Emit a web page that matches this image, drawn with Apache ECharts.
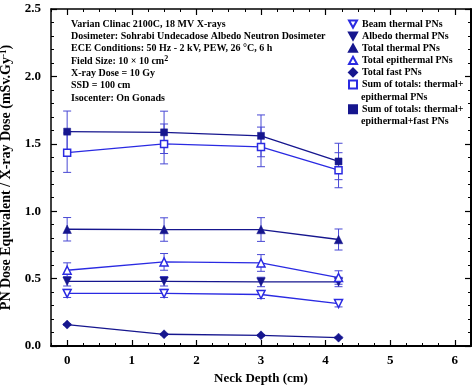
<!DOCTYPE html>
<html><head><meta charset="utf-8">
<script src="https://cdn.jsdelivr.net/npm/echarts@6/dist/echarts.min.js"></script>
<style>html,body{margin:0;padding:0;background:#fff}#c{width:474px;height:387px}</style>
</head><body><div id="c"></div>
<script>
// ---- data ----
const depths = [0, 1.5, 3, 4.2];
const xTickValues = [0, 1, 2, 3, 4, 5, 6];
const beamThermal = [0.39, 0.39, 0.382, 0.315];
const beamThermalErr = [0.03, 0.03, 0.03, 0.025];
const albedoThermal = [0.48, 0.48, 0.475, 0.475];
const albedoThermalErr = [0.035, 0.035, 0.035, 0.035];
const totalThermal = [0.866, 0.864, 0.864, 0.79];
const totalThermalErr = [0.087, 0.087, 0.088, 0.078];
const totalEpithermal = [0.562, 0.624, 0.616, 0.508];
const totalEpithermalErr = [0.055, 0.062, 0.062, 0.05];
const totalFast = [0.159, 0.087, 0.079, 0.062];
const totalFastErr = [0.006, 0.006, 0.006, 0.006];
const sumThermEpi = [1.434, 1.499, 1.477, 1.304];
const sumThermEpiErr = [0.146, 0.148, 0.147, 0.13];
const sumAll = [1.59, 1.585, 1.559, 1.369];
const sumAllErr = [0.153, 0.157, 0.155, 0.135];
const seriesNames = ['Beam thermal PNs', 'Albedo thermal PNs', 'Total thermal PNs', 'Total epithermal PNs',
  'Total fast PNs', 'Sum of totals: thermal+\nepithermal PNs', 'Sum of totals: thermal+\nepithermal+fast PNs'];
const annotationLines = ['Varian Clinac 2100C, 18 MV X-rays',
  'Dosimeter: Sohrabi Undecadose Albedo Neutron Dosimeter',
  'ECE Conditions: 50 Hz - 2 kV, PEW, 26 °C, 6 h',
  'Field Size: 10 × 10 cm{sup|2}',
  'X-ray Dose = 10 Gy',
  'SSD = 100 cm',
  'Isocenter: On Gonads'];

// ---- styles ----
const DARK = '#16168e', BLUE = '#2a2ae2', ERR = '#4848d4';
const FONT = 'Liberation Serif';
const chart = echarts.init(document.getElementById('c'), null, {renderer: 'canvas'});

function pts(vals) { return depths.map((d, i) => [d, vals[i]]); }
function errPts(vals, errs) { return depths.map((d, i) => [d, vals[i] - errs[i], vals[i] + errs[i]]); }

const DOWN = 'path://M0,0L10,0L5,9Z';
const UP = 'path://M5,0L10,9L0,9Z';
const defs = [
  {v: beamThermal, e: beamThermalErr, sym: 'triangle', rot: 180, icon: DOWN, open: true, size: 8, c: BLUE},
  {v: albedoThermal, e: albedoThermalErr, sym: 'triangle', rot: 180, icon: DOWN, open: false, size: 8.5, c: DARK},
  {v: totalThermal, e: totalThermalErr, sym: 'triangle', rot: 0, icon: UP, open: false, size: 8.5, c: DARK},
  {v: totalEpithermal, e: totalEpithermalErr, sym: 'triangle', rot: 0, icon: UP, open: true, size: 8, c: BLUE},
  {v: totalFast, e: totalFastErr, sym: 'diamond', rot: 0, icon: 'diamond', open: false, size: 9, c: DARK},
  {v: sumThermEpi, e: sumThermEpiErr, sym: 'rect', rot: 0, icon: 'rect', open: true, size: 7, c: BLUE},
  {v: sumAll, e: sumAllErr, sym: 'rect', rot: 0, icon: 'rect', open: false, size: 7, c: DARK}
];

const series = [];
defs.forEach((d, i) => {
  series.push({
    type: 'custom', name: 'err' + i, xAxisIndex: 0, yAxisIndex: 0, z: 2,
    data: errPts(d.v, d.e), encode: {x: 0, y: [1, 2]},
    renderItem: function (params, api) {
      const x = api.value(0), lo = api.value(1), hi = api.value(2);
      const a = api.coord([x, hi]), b = api.coord([x, lo]);
      const w = 4, st = {stroke: ERR, lineWidth: 1};
      return {type: 'group', children: [
        {type: 'line', shape: {x1: a[0], y1: a[1], x2: b[0], y2: b[1]}, style: st},
        {type: 'line', shape: {x1: a[0] - w, y1: a[1], x2: a[0] + w, y2: a[1]}, style: st},
        {type: 'line', shape: {x1: b[0] - w, y1: b[1], x2: b[0] + w, y2: b[1]}, style: st}
      ]};
    }
  });
});
defs.forEach((d, i) => {
  series.push({
    type: 'line', name: seriesNames[i], xAxisIndex: 0, yAxisIndex: 0, z: 3,
    data: pts(d.v), symbol: d.sym, symbolRotate: d.rot, symbolSize: d.size,
    lineStyle: {color: d.c, width: 1.3},
    itemStyle: d.open ? {color: '#fff', borderColor: d.c, borderWidth: 1.5} : {color: d.c, borderColor: d.c, borderWidth: 0.5},
    emphasis: {disabled: true}, animation: false
  });
});

const LH = 12.1;
const legendText = {fontFamily: FONT, fontWeight: 'bold', fontSize: 10, color: '#000', lineHeight: LH};
const legendBase = {orient: 'vertical', left: 348, padding: 0, itemGap: 0, itemWidth: 8, itemHeight: 8,
  selectedMode: false, textStyle: legendText, formatter: n => n.split('\n')[0]};
const legends = [
  Object.assign({}, legendBase, {top: 24 - LH / 2, data: seriesNames.slice(0, 6).map((n, i) => ({name: n, icon: defs[i].icon}))}),
  Object.assign({}, legendBase, {top: 109.3 - LH / 2, data: [{name: seriesNames[6], icon: defs[6].icon}]})
];
const legendSecondLines = [
  {text: seriesNames[5].split('\n')[1], y: 97.3},
  {text: seriesNames[6].split('\n')[1], y: 121.6}
];

const tickLabelStyle = {fontFamily: FONT, fontWeight: 'bold', fontSize: 13, color: '#000'};

chart.setOption({
  animation: false,
  backgroundColor: '#fff',
  grid: {left: 51, right: 3, top: 9, bottom: 41, containLabel: false, outerBoundsMode: 'none'},
  legend: legends,
  xAxis: [
    {type: 'value', position: 'bottom', min: -0.25, max: 6.25,
      axisLine: {show: true, onZero: false, lineStyle: {color: '#000', width: 2}},
      axisTick: {show: true, inside: true, length: 6, customValues: xTickValues, lineStyle: {color: '#000', width: 1.2}},
      axisLabel: {show: true, customValues: xTickValues, margin: 8, ...tickLabelStyle},
      splitLine: {show: false},
      name: 'Neck Depth (cm)', nameLocation: 'middle', nameGap: 25,
      nameTextStyle: {fontFamily: FONT, fontWeight: 'bold', fontSize: 13, color: '#000'}},
    {type: 'value', position: 'bottom', min: -0.25, max: 6.25, interval: 0.25,
      axisLine: {show: false, onZero: false}, axisTick: {show: true, inside: true, length: 3, lineStyle: {color: '#000', width: 1}},
      axisLabel: {show: false}, splitLine: {show: false}},
    {type: 'value', position: 'top', min: -0.25, max: 6.25,
      axisLine: {show: true, onZero: false, lineStyle: {color: '#000', width: 1.5}},
      axisTick: {show: true, inside: true, length: 6, customValues: xTickValues, lineStyle: {color: '#000', width: 1.2}},
      axisLabel: {show: false}, splitLine: {show: false}},
    {type: 'value', position: 'top', min: -0.25, max: 6.25, interval: 0.25,
      axisLine: {show: false, onZero: false}, axisTick: {show: true, inside: true, length: 3, lineStyle: {color: '#000', width: 1}},
      axisLabel: {show: false}, splitLine: {show: false}}
  ],
  yAxis: [
    {type: 'value', position: 'left', min: 0, max: 2.5, interval: 0.5,
      axisLine: {show: true, onZero: false, lineStyle: {color: '#000', width: 1.5}},
      axisTick: {show: true, inside: true, length: 6, lineStyle: {color: '#000', width: 1.2}},
      minorTick: {show: true, splitNumber: 5, length: 3, lineStyle: {color: '#000', width: 1}},
      axisLabel: {margin: 10, formatter: v => v.toFixed(1), ...tickLabelStyle},
      splitLine: {show: false}, minorSplitLine: {show: false},
      name: 'PN Dose Equivalent / X-ray Dose (mSv.Gy{sup|-1})', nameLocation: 'middle', nameGap: 25, nameRotate: 90,
      nameTextStyle: {fontFamily: FONT, fontWeight: 'bold', fontSize: 14, color: '#000',
        rich: {sup: {fontFamily: FONT, fontWeight: 'bold', fontSize: 9, color: '#000', verticalAlign: 'top', padding: [0, 0, 6, 0]}}}},
    {type: 'value', position: 'right', min: 0, max: 2.5, interval: 0.5,
      axisLine: {show: true, onZero: false, lineStyle: {color: '#000', width: 2}},
      axisTick: {show: true, inside: true, length: 6, lineStyle: {color: '#000', width: 1.2}},
      minorTick: {show: true, splitNumber: 5, length: 3, lineStyle: {color: '#000', width: 1}},
      axisLabel: {show: false}, splitLine: {show: false}}
  ],
  graphic: [{
    type: 'text', left: 71, top: 18, silent: true,
    style: {
      text: annotationLines.join('\n'),
      font: 'bold 10px "Liberation Serif"', fill: '#000', lineHeight: 12.3,
      rich: {sup: {font: 'bold 8px "Liberation Serif"', fill: '#000', verticalAlign: 'top', lineHeight: 12.3}}
    }
  }].concat(legendSecondLines.map(s => ({
    type: 'text', left: 361, top: s.y - LH / 2, silent: true,
    style: {text: s.text, font: 'bold 10px "Liberation Serif"', fill: '#000', lineHeight: LH}
  }))),
  series: series
});
</script></body></html>
